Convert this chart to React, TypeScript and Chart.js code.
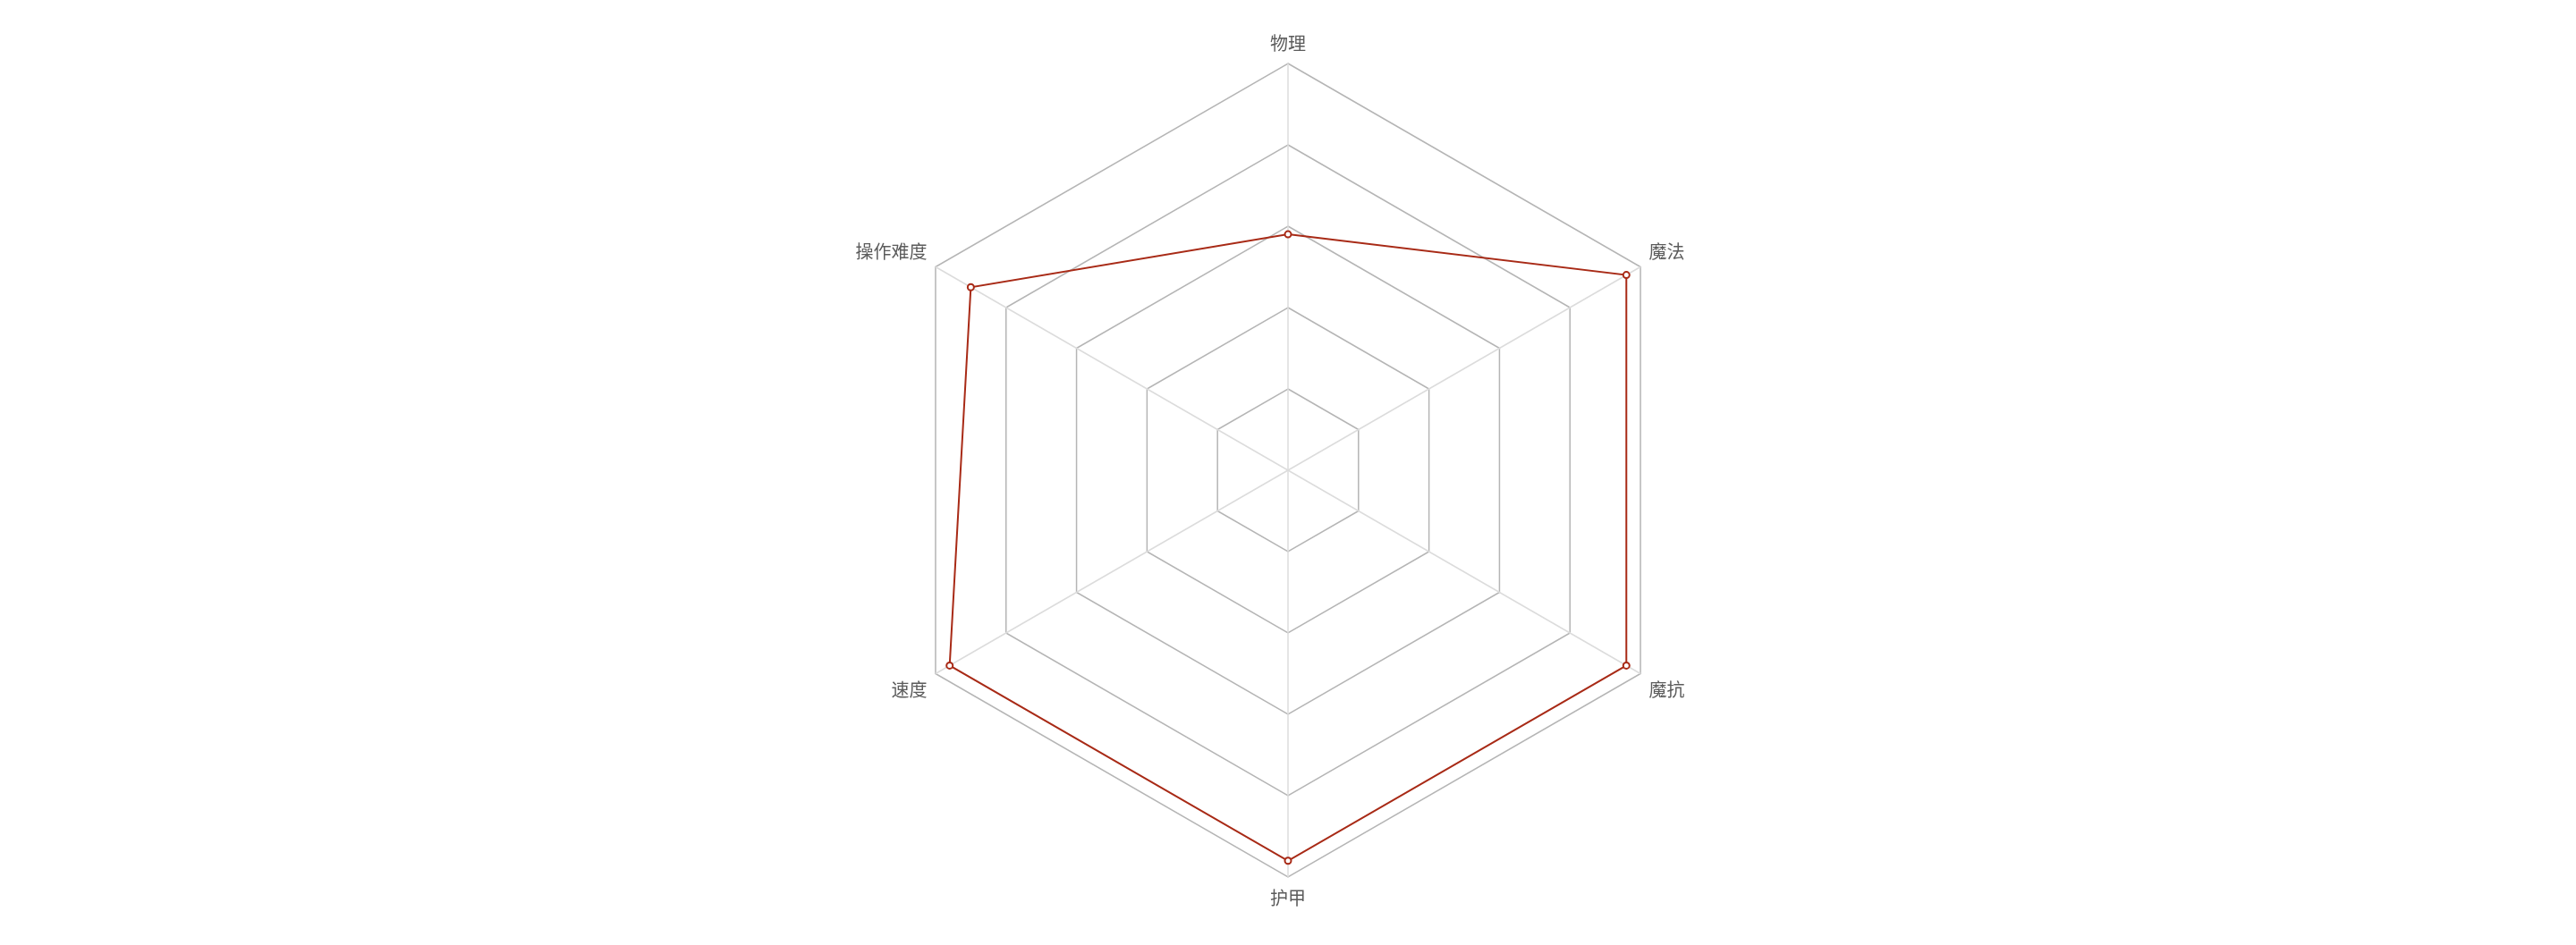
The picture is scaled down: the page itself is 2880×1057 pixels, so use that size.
import React, { useEffect, useRef } from "react";
import { Chart, registerables } from "chart.js";

Chart.register(...registerables);

const categories = ["物理", "魔法", "魔抗", "护甲", "速度", "操作难度"];
const values = [58, 96, 96, 96, 96, 90];
const scaleMax = 100;
const scaleStep = 20;

export default function App() {
  const ref = useRef<HTMLCanvasElement | null>(null);
  useEffect(() => {
    if (!ref.current) return;
    const chart = new Chart(ref.current, {
      type: "radar",
      data: {
        labels: categories,
        datasets: [
          {
            data: values,
            borderColor: "#a82a16",
            backgroundColor: "rgba(0,0,0,0)",
            borderWidth: 2,
            pointRadius: 3.5,
            pointBorderWidth: 2,
            pointBackgroundColor: "#ffffff",
            pointBorderColor: "#a82a16",
            fill: false,
          },
        ],
      },
      options: {
        animation: false,
        responsive: true,
        maintainAspectRatio: false,
        layout: { padding: { top: 28, bottom: 28 } },
        plugins: { legend: { display: false }, tooltip: { enabled: false } },
        scales: {
          r: {
            min: 0,
            max: scaleMax,
            ticks: { display: false, stepSize: scaleStep },
            grid: { color: "#b5b5b5", lineWidth: 1.5 },
            angleLines: { color: "#dcdcdc", lineWidth: 1.5 },
            pointLabels: {
              color: "#5c5c5c",
              padding: 11,
              font: { size: 20, family: "'Noto Sans CJK SC', sans-serif" },
            },
          },
        },
      },
    });
    return () => chart.destroy();
  }, []);
  return (
    <div style={{ position: "relative", width: "100%", height: 1037 }}>
      <canvas ref={ref} />
    </div>
  );
}
